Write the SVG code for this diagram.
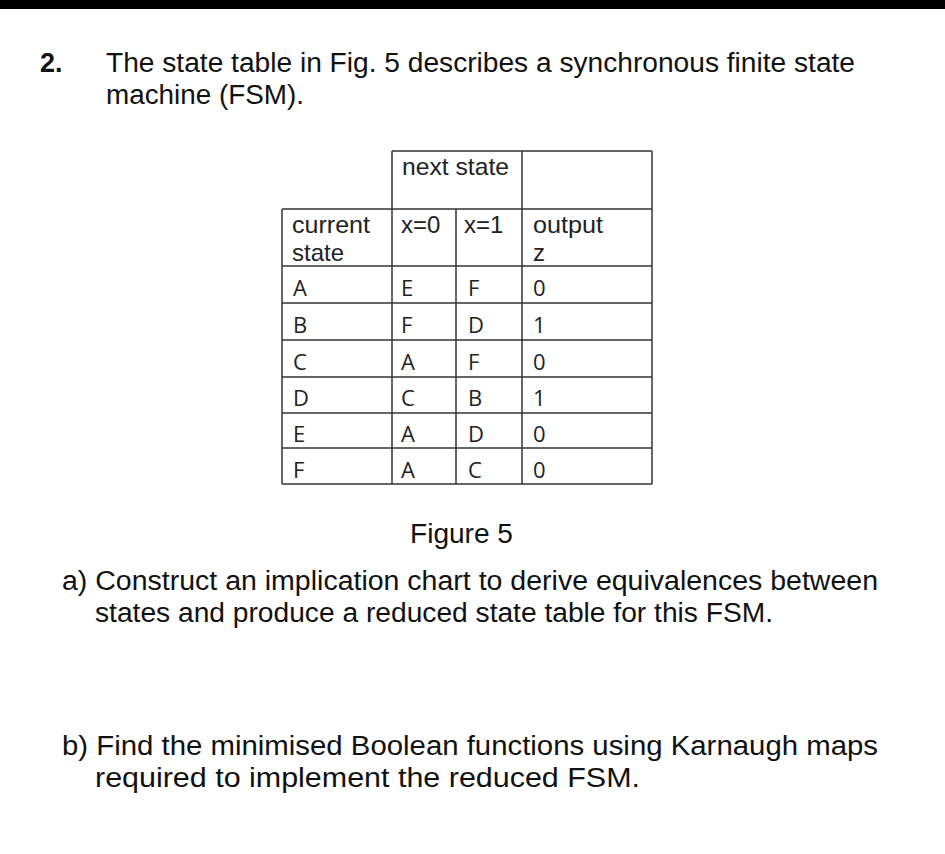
<svg xmlns="http://www.w3.org/2000/svg" width="945" height="854" viewBox="0 0 945 854">
<style>
.t{font-family:"Liberation Sans",Arial,sans-serif;font-size:27px;fill:#111}
.h{font-family:"Liberation Sans",Arial,sans-serif;font-size:24px;fill:#222}
.c{font-family:"Open Sans","Liberation Sans",sans-serif;font-size:22px;fill:#222}
.g line{stroke:#333;stroke-width:1.5}
</style>
<rect width="945" height="854" fill="#fff"/>
<rect width="945" height="9" fill="#000"/>
<text class="t" x="40" y="72" font-weight="bold">2.</text>
<text class="t" x="106" y="72" textLength="749" lengthAdjust="spacingAndGlyphs">The state table in Fig. 5 describes a synchronous finite state</text>
<text class="t" x="106" y="104" textLength="198" lengthAdjust="spacingAndGlyphs">machine (FSM).</text>
<g class="g" id="table">
<line x1="392" y1="151" x2="652" y2="151"/>
<line x1="282" y1="209" x2="652" y2="209"/>
<line x1="282" y1="266" x2="652" y2="266"/>
<line x1="282" y1="303" x2="652" y2="303"/>
<line x1="282" y1="340" x2="652" y2="340"/>
<line x1="282" y1="377" x2="652" y2="377"/>
<line x1="282" y1="413" x2="652" y2="413"/>
<line x1="282" y1="448" x2="652" y2="448"/>
<line x1="282" y1="484" x2="652" y2="484"/>
<line x1="282" y1="209" x2="282" y2="484"/>
<line x1="392" y1="151" x2="392" y2="484"/>
<line x1="456" y1="209" x2="456" y2="484"/>
<line x1="522" y1="151" x2="522" y2="484"/>
<line x1="652" y1="151" x2="652" y2="484"/>
</g>
<g class="h">
<text x="402" y="175" textLength="107" lengthAdjust="spacingAndGlyphs">next state</text>
<text x="292" y="233" textLength="78" lengthAdjust="spacingAndGlyphs">current</text>
<text x="292" y="261">state</text>
<text x="401" y="233">x=0</text>
<text x="464" y="233">x=1</text>
<text x="533" y="233" textLength="70" lengthAdjust="spacingAndGlyphs">output</text>
<text x="533" y="261">z</text>
</g>
<g class="c">
<text x="293" y="296">A</text><text x="401" y="296">E</text><text x="468" y="296">F</text><text x="533" y="296">0</text>
<text x="293" y="333">B</text><text x="401" y="333">F</text><text x="468" y="333">D</text><text x="533" y="333">1</text>
<text x="293" y="370">C</text><text x="401" y="370">A</text><text x="468" y="370">F</text><text x="533" y="370">0</text>
<text x="293" y="406">D</text><text x="401" y="406">C</text><text x="468" y="406">B</text><text x="533" y="406">1</text>
<text x="293" y="442">E</text><text x="401" y="442">A</text><text x="468" y="442">D</text><text x="533" y="442">0</text>
<text x="293" y="478">F</text><text x="401" y="478">A</text><text x="468" y="478">C</text><text x="533" y="478">0</text>
</g>
<text class="t" x="410" y="543" textLength="103" lengthAdjust="spacingAndGlyphs">Figure 5</text>
<text class="t" x="62" y="590" textLength="816" lengthAdjust="spacingAndGlyphs">a) Construct an implication chart to derive equivalences between</text>
<text class="t" x="95" y="622" textLength="678" lengthAdjust="spacingAndGlyphs">states and produce a reduced state table for this FSM.</text>
<text class="t" x="62" y="755" textLength="816" lengthAdjust="spacingAndGlyphs">b) Find the minimised Boolean functions using Karnaugh maps</text>
<text class="t" x="95" y="787" textLength="545" lengthAdjust="spacingAndGlyphs">required to implement the reduced FSM.</text>
</svg>
